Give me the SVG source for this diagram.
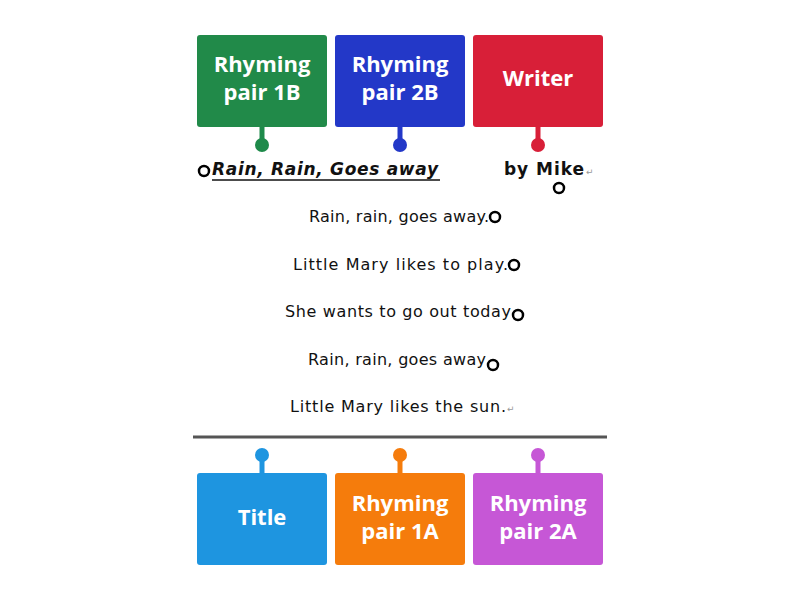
<svg xmlns="http://www.w3.org/2000/svg" width="800" height="600" viewBox="0 0 800 600">
<style>
.lbl{font-family:"Open Sans","Noto Sans",sans-serif;font-weight:bold;font-size:22px;fill:#fff;text-anchor:middle}
.t{font-family:"DejaVu Sans",sans-serif;font-size:16px;fill:#111;text-anchor:end}
.ring{fill:none;stroke:#000;stroke-width:2.5}
.mark{font-family:"DejaVu Sans",sans-serif;font-size:9px;fill:#999}
</style>
<rect width="800" height="600" fill="#fff"/>
<g id="connectors">
<line x1="262" y1="127" x2="262" y2="145" stroke="#1e8a4a" stroke-width="5"/><circle cx="262" cy="145" r="7" fill="#1e8a4a"/>
<line x1="400" y1="127" x2="400" y2="145" stroke="#2338c8" stroke-width="5"/><circle cx="400" cy="145" r="7" fill="#2338c8"/>
<line x1="538" y1="127" x2="538" y2="145" stroke="#d81f38" stroke-width="5"/><circle cx="538" cy="145" r="7" fill="#d81f38"/>
<line x1="262" y1="455" x2="262" y2="473" stroke="#1e95e0" stroke-width="5"/><circle cx="262" cy="455" r="7" fill="#1e95e0"/>
<line x1="400" y1="455" x2="400" y2="473" stroke="#f57c0c" stroke-width="5"/><circle cx="400" cy="455" r="7" fill="#f57c0c"/>
<line x1="538" y1="455" x2="538" y2="473" stroke="#c657d6" stroke-width="5"/><circle cx="538" cy="455" r="7" fill="#c657d6"/>
</g>
<g id="n1"><rect x="197" y="35" width="130" height="92" rx="3" fill="#218a49"/><text class="lbl" x="262" y="72">Rhyming</text><text class="lbl" x="262" y="100">pair 1B</text></g>
<g id="n2"><rect x="335" y="35" width="130" height="92" rx="3" fill="#2338c8"/><text class="lbl" x="400" y="72">Rhyming</text><text class="lbl" x="400" y="100">pair 2B</text></g>
<g id="n3"><rect x="473" y="35" width="130" height="92" rx="3" fill="#d81f38"/><text class="lbl" x="538" y="86">Writer</text></g>
<g id="n4"><rect x="197" y="473" width="130" height="92" rx="3" fill="#1e95e0"/><text class="lbl" x="262" y="525">Title</text></g>
<g id="n5"><rect x="335" y="473" width="130" height="92" rx="3" fill="#f57c0c"/><text class="lbl" x="400" y="511">Rhyming</text><text class="lbl" x="400" y="539">pair 1A</text></g>
<g id="n6"><rect x="473" y="473" width="130" height="92" rx="3" fill="#c657d6"/><text class="lbl" x="538" y="511">Rhyming</text><text class="lbl" x="538" y="539">pair 2A</text></g>
<g id="poem">
<text x="212" y="175" textLength="226" style="font-family:'DejaVu Sans',sans-serif;font-size:17px;font-weight:bold;font-style:italic" fill="#111">Rain, Rain, Goes away</text>
<line x1="212" y1="180" x2="440" y2="180" stroke="#111" stroke-width="1.5"/>
<text x="504" y="175" textLength="80" style="font-family:'DejaVu Sans',sans-serif;font-size:17px;font-weight:bold" fill="#111">by Mike</text>
<text class="mark" x="586" y="175">↵</text>
<circle class="ring" cx="204" cy="171" r="5"/>
<circle class="ring" cx="559" cy="188" r="5"/>
<text class="t" x="489" y="222" textLength="180">Rain, rain, goes away.</text><circle class="ring" cx="495" cy="217" r="5"/>
<text class="t" x="508" y="270" textLength="215">Little Mary likes to play.</text><circle class="ring" cx="514" cy="265" r="5"/>
<text class="t" x="511" y="317" textLength="226">She wants to go out today</text><circle class="ring" cx="518" cy="315" r="5"/>
<text class="t" x="486" y="365" textLength="178">Rain, rain, goes away</text><circle class="ring" cx="493" cy="365" r="5"/>
<text class="t" x="506" y="412" textLength="216">Little Mary likes the sun.</text><text class="mark" x="507" y="412">↵</text>
<line x1="193" y1="437" x2="607" y2="437" stroke="#555" stroke-width="3"/>
</g>
</svg>
